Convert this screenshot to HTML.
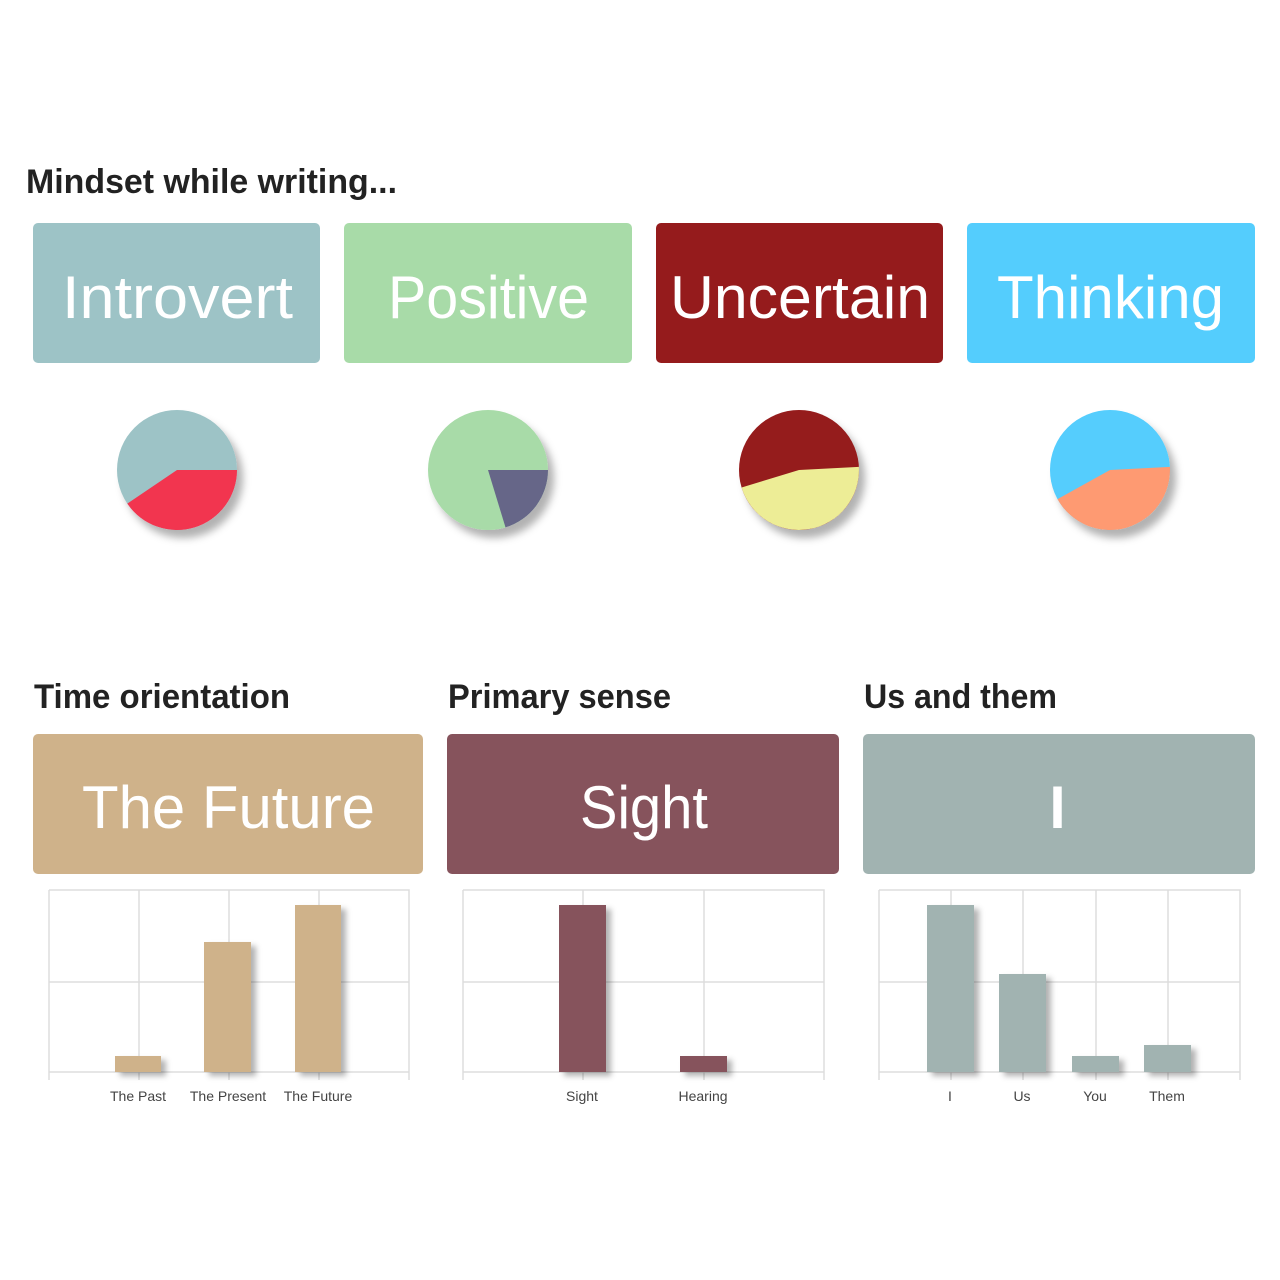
<!DOCTYPE html>
<html><head><meta charset="utf-8"><style>
html,body{margin:0;padding:0;background:#fff;width:1280px;height:1280px;overflow:hidden}
svg{display:block}
.h{font-family:"Liberation Sans",sans-serif;font-weight:bold;font-size:34px;fill:#222}
.t{font-family:"Liberation Sans",sans-serif;font-size:60px;fill:#fff}
.l{font-family:"Liberation Sans",sans-serif;font-size:14px;fill:#444}
.g{stroke:#ddd;stroke-width:1.5;fill:none}
</style></head><body>
<svg width="1280" height="1280" viewBox="0 0 1280 1280">
<defs>
<filter id="sh" x="-30%" y="-30%" width="170%" height="170%"><feDropShadow dx="6" dy="8" stdDeviation="4" flood-color="#000" flood-opacity="0.3"/></filter>
<filter id="bs" x="-30%" y="-10%" width="170%" height="130%"><feDropShadow dx="5" dy="4" stdDeviation="3" flood-color="#000" flood-opacity="0.3"/></filter>
</defs>
<text class="h" x="26" y="193" textLength="371" lengthAdjust="spacingAndGlyphs">Mindset while writing...</text>
<rect x="33" y="223" width="287" height="140" rx="5" fill="#9DC3C6"/>
<rect x="344" y="223" width="288" height="140" rx="5" fill="#A8DBA8"/>
<rect x="656" y="223" width="287" height="140" rx="5" fill="#951B1C"/>
<rect x="967" y="223" width="288" height="140" rx="5" fill="#54CDFD"/>
<text class="t" x="62" y="318" textLength="231" lengthAdjust="spacingAndGlyphs">Introvert</text>
<text class="t" x="388" y="318" textLength="201" lengthAdjust="spacingAndGlyphs">Positive</text>
<text class="t" x="670" y="318" textLength="260" lengthAdjust="spacingAndGlyphs">Uncertain</text>
<text class="t" x="997" y="318" textLength="227" lengthAdjust="spacingAndGlyphs">Thinking</text>

<g filter="url(#sh)"><circle cx="177" cy="470" r="60" fill="#9DC3C6"/><path d="M177 470 L237 470 A60 60 0 0 1 127.3 503.6 Z" fill="#F23450"/></g>
<g filter="url(#sh)"><circle cx="488" cy="470" r="60" fill="#A8DBA8"/><path d="M488 470 L548 470 A60 60 0 0 1 505.5 527.4 Z" fill="#666688"/></g>
<g filter="url(#sh)"><circle cx="799" cy="470" r="60" fill="#951B1C"/><path d="M799 470 L858.9 466.9 A60 60 0 0 1 741.6 487.5 Z" fill="#EDED96"/></g>
<g filter="url(#sh)"><circle cx="1110" cy="470" r="60" fill="#54CDFD"/><path d="M1110 470 L1169.9 466.9 A60 60 0 0 1 1057.5 499.1 Z" fill="#FE9A72"/></g>

<text class="h" x="34" y="708" textLength="256" lengthAdjust="spacingAndGlyphs">Time orientation</text>
<text class="h" x="448" y="708" textLength="223" lengthAdjust="spacingAndGlyphs">Primary sense</text>
<text class="h" x="864" y="708" textLength="193" lengthAdjust="spacingAndGlyphs">Us and them</text>
<rect x="33" y="734" width="390" height="140" rx="5" fill="#CFB28A"/>
<rect x="447" y="734" width="392" height="140" rx="5" fill="#86535C"/>
<rect x="863" y="734" width="392" height="140" rx="5" fill="#A1B3B1"/>
<text class="t" x="82" y="828" textLength="293" lengthAdjust="spacingAndGlyphs">The Future</text>
<text class="t" x="580" y="828" textLength="128" lengthAdjust="spacingAndGlyphs">Sight</text>
<text class="t" x="1045" y="828" textLength="25" lengthAdjust="spacingAndGlyphs">I</text>

<g class="g"><path d="M49 890H409V1072M49 890V1072M49 982H409M139 890V1080M229 890V1080M319 890V1080M49 1072H409M49 1072V1080M409 1072V1080"/></g>
<g fill="#CFB28A" filter="url(#bs)"><rect x="115" y="1056" width="46" height="16"/><rect x="204" y="942" width="47" height="130"/><rect x="295" y="905" width="46" height="167"/></g>
<text class="l" x="138" y="1101" text-anchor="middle">The Past</text>
<text class="l" x="228" y="1101" text-anchor="middle">The Present</text>
<text class="l" x="318" y="1101" text-anchor="middle">The Future</text>
<g class="g"><path d="M463 890H824V1072M463 890V1072M463 982H824M583 890V1080M704 890V1080M463 1072H824M463 1072V1080M824 1072V1080"/></g>
<g fill="#86535C" filter="url(#bs)"><rect x="559" y="905" width="47" height="167"/><rect x="680" y="1056" width="47" height="16"/></g>
<text class="l" x="582" y="1101" text-anchor="middle">Sight</text>
<text class="l" x="703" y="1101" text-anchor="middle">Hearing</text>
<g class="g"><path d="M879 890H1240V1072M879 890V1072M879 982H1240M951 890V1080M1023 890V1080M1096 890V1080M1168 890V1080M879 1072H1240M879 1072V1080M1240 1072V1080"/></g>
<g fill="#A1B3B1" filter="url(#bs)"><rect x="927" y="905" width="47" height="167"/><rect x="999" y="974" width="47" height="98"/><rect x="1072" y="1056" width="47" height="16"/><rect x="1144" y="1045" width="47" height="27"/></g>
<text class="l" x="950" y="1101" text-anchor="middle">I</text>
<text class="l" x="1022" y="1101" text-anchor="middle">Us</text>
<text class="l" x="1095" y="1101" text-anchor="middle">You</text>
<text class="l" x="1167" y="1101" text-anchor="middle">Them</text>
</svg>
</body></html>
